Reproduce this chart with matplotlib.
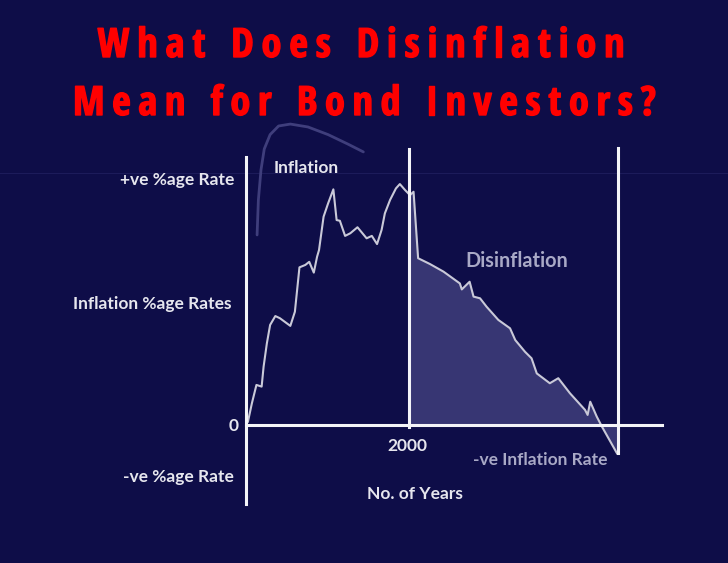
import matplotlib
matplotlib.use("Agg")
import matplotlib.pyplot as plt
import matplotlib.patheffects as pe
from matplotlib.font_manager import FontProperties, fontManager

# ── data (year, inflation rate %) ────────────────────────────────────────────
years = [1975.3, 1975.9, 1976.6, 1977.4, 1977.7, 1978.2, 1978.7, 1979.5,
         1980.2, 1981.8, 1982.5, 1983.2, 1984.1, 1984.7, 1985.4, 1985.9,
         1986.2, 1986.9, 1987.6, 1988.4, 1988.9, 1989.4, 1990.2, 1991.0,
         1992.1, 1993.5, 1994.3, 1995.1, 1995.8, 1996.3, 1997.1, 1998.0,
         1998.6, 1999.4, 2000.15, 2000.7, 2001.4, 2003.2, 2005.3, 2007.8,
         2008.1, 2009.3, 2009.9, 2010.9, 2011.9, 2013.7, 2015.5, 2016.3,
         2017.8, 2018.8, 2019.6, 2021.6, 2022.9, 2024.7, 2027.0, 2027.4,
         2027.8, 2028.8, 2029.6, 2031.9]
rates = [0.14, 0.90, 1.67, 1.60, 2.43, 3.40, 4.17, 4.54,
         4.45, 4.13, 4.72, 6.57, 6.67, 6.80, 6.35, 7.01,
         7.29, 8.68, 9.24, 9.82, 8.54, 8.51, 7.88, 7.99,
         8.24, 7.78, 7.88, 7.54, 8.13, 8.82, 9.38, 9.86,
         10.04, 9.79, 9.58, 9.72, 6.95, 6.71, 6.39, 5.90,
         5.65, 5.97, 5.35, 5.28, 4.93, 4.38, 4.03, 3.54,
         3.05, 2.78, 2.15, 1.74, 1.95, 1.32, 0.63, 0.42,
         0.97, 0.35, -0.07, -1.18]

# decorative hand-drawn arc near the top of the y axis
arc_x = [1976.7, 1976.9, 1977.3, 1977.8, 1978.7, 1980.0, 1981.8, 1984.5, 1987.6, 1990.6, 1993.0]
arc_y = [7.92, 9.38, 10.63, 11.50, 12.10, 12.46, 12.54, 12.42, 12.10, 11.71, 11.38]

X_START, X_MID, X_END, X_AXIS_END = 1975.0, 2000.0, 2032.0, 2038.8

# ── style ─────────────────────────────────────────────────────────────────────
BG      = "#0e0d48"
WHITE   = "#f4f4f8"
CURVE   = "#c9c9d8"
LABEL   = "#e6e6ee"
GREY    = "#a9a9c6"
RED     = "#ff0000"

W, H = 728, 563
fig = plt.figure(figsize=(W / 100, H / 100), dpi=100, facecolor=BG)
ax = fig.add_axes([0, 0, 1, 1])
ax.set_facecolor(BG)
ax.set_xlim(1937.27, 2048.93)
ax.set_ylim(-5.75, 17.71)
ax.axis("off")

# faint scan line across the slide
ax.axhline(10.51, color="#1c1b5a", linewidth=0.8)

# curve + disinflation shading
ax.fill_between(years, rates, 0, where=[y >= X_MID for y in years],
                color="#6a6aa8", alpha=0.45, linewidth=0)
ax.plot(years, rates, color=CURVE, linewidth=1.5, solid_joinstyle="round")
ax.plot(arc_x, arc_y, color="#3f3e7c", linewidth=2.0, solid_capstyle="round")

# axes / guide lines
ax.plot([X_START, X_AXIS_END], [0, 0], color=WHITE, linewidth=2.2)
ax.plot([X_START, X_START], [-3.29, 11.18], color=WHITE, linewidth=2.2)
ax.plot([X_MID, X_MID], [-0.08, 11.5], color=WHITE, linewidth=2.2)
ax.plot([X_END, X_END], [-1.18, 11.54], color=WHITE, linewidth=2.2)

# ── labels (pixel positions, y from top) ─────────────────────────────────────
def px(x, y):
    return x / W, 1 - y / H

lab = dict(family=["Lato", "DejaVu Sans"], fontweight="bold", fontsize=12.5)
fig.text(*px(234, 180), "+ve %age Rate", color=LABEL, ha="right", va="center", **lab)
fig.text(*px(232, 304), "Inflation %age Rates", color=LABEL, ha="right", va="center", **lab)
fig.text(*px(234, 426), "0", color=LABEL, ha="center", va="center", **lab)
fig.text(*px(234, 477), "-ve %age Rate", color=LABEL, ha="right", va="center", **lab)
fig.text(*px(306, 168), "Inflation", color=LABEL, ha="center", va="center", **lab)
fig.text(*px(407, 446), "2000", color=LABEL, ha="center", va="center", **lab)
fig.text(*px(415, 494), "No. of Years", color=LABEL, ha="center", va="center", **lab)
fig.text(*px(540, 460), "-ve Inflation Rate", color=GREY, ha="center", va="center", **lab)
fig.text(*px(517, 261), "Disinflation", color=GREY, ha="center", va="center",
         family=["Lato", "DejaVu Sans"], fontweight="bold", fontsize=14.3)

# ── title with wide letter spacing ───────────────────────────────────────────
def pick_title_font():
    prefs = ["Open Sans", "Noto Sans", "DejaVu Sans", "Roboto", "Liberation Sans Narrow"]
    best = None
    for f in fontManager.ttflist:
        w = f.weight if isinstance(f.weight, int) else 700
        if f.style != "normal" or w < 700 or w > 800:
            continue
        if f.stretch not in ("condensed", "semi-condensed") and "Narrow" not in f.name:
            continue
        fam = next((i for i, p in enumerate(prefs) if f.name.startswith(p)), 99)
        key = (fam, -w)
        if best is None or key < best[0]:
            best = (key, f.fname)
    if best:
        return FontProperties(fname=best[1], size=29)
    return FontProperties(family="DejaVu Sans", weight="bold", size=27)

title_fp = pick_title_font()
renderer = fig.canvas.get_renderer()

def tw(s):
    w, _, _ = renderer.get_text_width_height_descent(s, title_fp, ismath=False)
    return w

def spaced_title(s, cx, base_y, target_w):
    spacing = (target_w - tw(s)) / (len(s) - 1)
    x0 = cx - target_w / 2
    for k, ch in enumerate(s):
        if ch == " ":
            continue
        left = tw(s[:k + 1]) - tw(ch) + k * spacing
        fig.text(*px(x0 + left, base_y), ch, color=RED, fontproperties=title_fp,
                 ha="left", va="baseline",
                 path_effects=[pe.withStroke(linewidth=1.0, foreground=RED)])

spaced_title("What Does Disinflation", 361, 57, 527)
spaced_title("Mean for Bond Investors?", 364.5, 115, 583)

fig.savefig("out.png", dpi=100, facecolor=BG)
